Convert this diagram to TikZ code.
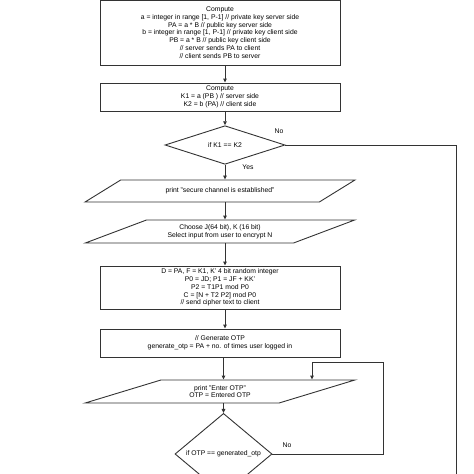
\documentclass[tikz,border=0pt]{standalone}
\usepackage{fontspec}
\setmainfont{Liberation Sans}
\usetikzlibrary{shapes.geometric,arrows.meta}

\tikzset{
    box/.style={draw=black!80, line width=0.9pt, align=center, inner sep=0pt, minimum width=240pt},
    io/.style={draw=black!80, line width=0.9pt, align=center, inner sep=0pt, trapezium,
        trapezium left angle=18, trapezium right angle=162, trapezium stretches=true,
        minimum width=270pt},
    cond/.style={draw=black!80, line width=0.9pt, align=center, inner sep=0pt, diamond},
    arr/.style={draw=black!80, line width=0.9pt, -{Triangle[length=4pt,width=3.6pt]}},
    line/.style={draw=black!80, line width=0.9pt}
}

\begin{document}
\begin{tikzpicture}[x=1pt, y=-1pt, every node/.append style={font=\fontsize{6.8}{7.8}\selectfont}]
    \useasboundingbox (0,0) rectangle (474,474);
    \coordinate (ax) at (225,0);

    % boxes
    \node[box, minimum height=65pt] (keys) at (220,32.5) {Compute\\a = integer in range [1, P-1] // private key server side\\PA = a * B // public key server side\\b = integer in range [1, P-1] // private key client side\\PB = a * B // public key client side\\// server sends PA to client\\// client sends PB to server};
    \node[box, minimum height=28pt] (shared) at (220,97) {Compute\\K1 = a (PB ) // server side\\K2 = b (PA) // client side};
    \node[cond, minimum width=120pt, minimum height=35pt] (check) at (225,145) {if K1 == K2};
    \node[io, minimum height=22pt] (secure) at (220,191) {print "secure channel is established"};
    \node[io, minimum height=23pt] (choose) at (220,231.5) {Choose J(64 bit), K (16 bit)\\Select input from user to encrypt N};
    \node[box, minimum height=43pt] (cipher) at (220,287.5) {D = PA, F = K1, K' 4 bit random integer\\P0 = JD; P1 = JF + KK'\\P2 = T1P1 mod P0\\C = [N + T2 P2] mod P0\\// send cipher text to client};
    \node[box, minimum height=28pt] (genotp) at (220,343) {// Generate OTP\\generate\_otp = PA + no. of times user logged in};
    \node[io, minimum height=23pt] (enter) at (220,391.5) {print "Enter OTP"\\OTP = Entered OTP};
    \node[cond, minimum width=97pt, minimum height=56pt] (otpcheck) at (223.5,454) {if OTP == generated\_otp};

    % arrows
    \draw[arr] (keys.south -| ax) -- (shared.north -| ax);
    \draw[arr] (shared.south -| ax) -- (check.north);
    \draw[arr] (check.south) -- (secure.north -| ax);
    \draw[arr] (secure.south -| ax) -- (choose.north -| ax);
    \draw[arr] (choose.south -| ax) -- (cipher.north -| ax);
    \draw[arr] (cipher.south -| ax) -- (genotp.north -| ax);
    \draw[arr] (genotp.south -| otpcheck) -- (enter.north -| otpcheck);
    \draw[arr] (enter.south -| otpcheck) -- (otpcheck.north);

    % no branches
    \coordinate (noend) at (456,480);
    \draw[line] (check.east) -| (noend);
    \coordinate (loopr) at (383,362);
    \coordinate (loopl) at (312,362);
    \draw[arr] (otpcheck.east) -| (loopr) -- (loopl) -- (loopl |- enter.north);

    \node (no1) at (279,131) {No};
    \node (yes1) at (248,167) {Yes};
    \node (no2) at (287,445) {No};
\end{tikzpicture}
\end{document}
